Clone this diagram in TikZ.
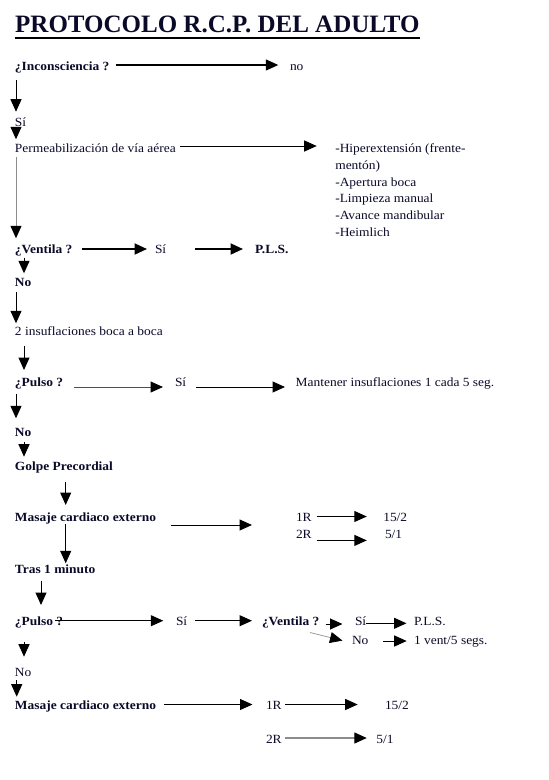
\documentclass[tikz,border=0pt]{standalone}
\usepackage{fontspec}
\setmainfont{Liberation Serif}
\newfontfamily\bodyfont{Liberation Serif}[FakeStretch=1.075]
\usetikzlibrary{arrows.meta}
\definecolor{txt}{RGB}{10,10,40}
\definecolor{lgray}{RGB}{140,140,140}
\definecolor{dgray}{RGB}{80,80,80}
\tikzset{
  lbl/.style={anchor=base west,inner sep=0pt,outer sep=0pt,text=txt,font=\bodyfont\fontsize{12.5}{15}\selectfont},
  blbl/.style={lbl,font=\bodyfont\bfseries\fontsize{12.5}{15}\selectfont},
  arr/.style={line width=1pt,draw=black,-{Triangle[length=12.5pt 0 0,width=11pt 0 0,color=black]}},
  thickarr/.style={arr,line width=2pt},
}
\begin{document}
\begin{tikzpicture}[x=1pt,y=-1pt]
\useasboundingbox (0,0) rectangle (549,780);
% title
\node[anchor=base west,inner sep=0pt,text=txt,font=\bfseries\fontsize{25}{30}\selectfont] (title) at (15,32.3) {PROTOCOLO R.C.P. DEL ADULTO};
\draw[line width=2.7pt,draw=black] ([yshift=-5.8pt]title.base west) -- ([yshift=-5.8pt]title.base east);

% row 1
\node[blbl] (inc) at (15,70) {¿Inconsciencia ?};
\node[lbl] (no1) at (290,70) {no};
\coordinate (a1s) at (115.5,65); \coordinate (a1e) at (278.3,65);
\draw[arr,line width=1.3pt] (a1s) -- (a1e);
\coordinate (v1s) at (16,80); \coordinate (v1e) at (16,111.7);
\draw[arr] (v1s) -- (v1e);
\node[lbl] (si1) at (15,126) {Sí};
\coordinate (v2s) at (16,127.5); \coordinate (v2e) at (16,139.3);
\draw[arr] (v2s) -- (v2e);

% row 2
\node[lbl] (perm) at (15,152.7) {Permeabilización de vía aérea};
\coordinate (a2s) at (180,146); \coordinate (a2e) at (316.7,146);
\draw[arr] (a2s) -- (a2e);
\node[lbl] (l1) at (335.3,152.7) {-Hiperextensión (frente-};
\node[lbl] (l2) at (335.3,169.4) {mentón)};
\node[lbl] (l3) at (335.3,186.1) {-Apertura boca};
\node[lbl] (l4) at (335.3,202.8) {-Limpieza manual};
\node[lbl] (l5) at (335.3,219.5) {-Avance mandibular};
\node[lbl] (l6) at (335.3,236.2) {-Heimlich};
\coordinate (v3s) at (16,157); \coordinate (v3e) at (16,238.3);
\draw[arr,draw=lgray] (v3s) -- (v3e);

% row 3
\node[blbl] (ven1) at (15,253.3) {¿Ventila ?};
\coordinate (a3s) at (81.5,249); \coordinate (a3e) at (147,249);
\draw[thickarr] (a3s) -- (a3e);
\node[lbl] (si2) at (155,253.3) {Sí};
\coordinate (a4s) at (195,249); \coordinate (a4e) at (243,249);
\draw[thickarr] (a4s) -- (a4e);
\node[blbl] (pls1) at (255,253.3) {P.L.S.};
\coordinate (v4s) at (24,257.7); \coordinate (v4e) at (24,273.3);
\draw[arr] (v4s) -- (v4e);
\node[blbl] (no2) at (15,286.7) {No};
\coordinate (v5s) at (16,291.7); \coordinate (v5e) at (16,323.3);
\draw[arr] (v5s) -- (v5e);
\node[lbl] (ins) at (15,335) {2 insuflaciones boca a boca};
\coordinate (v6s) at (24,346); \coordinate (v6e) at (24,370);
\draw[arr] (v6s) -- (v6e);

% row 4
\node[blbl] (pul1) at (15,386.7) {¿Pulso ?};
\coordinate (a5s) at (73.5,387); \coordinate (a5e) at (163,387);
\draw[arr,draw=dgray] (a5s) -- (a5e);
\node[lbl] (si3) at (175,386.7) {Sí};
\coordinate (a6s) at (196,387); \coordinate (a6e) at (285,387);
\draw[arr] (a6s) -- (a6e);
\node[lbl] (mant) at (295.7,386.7) {Mantener insuflaciones 1 cada 5 seg.};
\coordinate (v7s) at (16,394); \coordinate (v7e) at (16,418.3);
\draw[arr] (v7s) -- (v7e);
\node[blbl] (no3) at (15,436.7) {No};
\coordinate (v8s) at (24,441.7); \coordinate (v8e) at (24,456.7);
\draw[arr] (v8s) -- (v8e);
\node[blbl] (golpe) at (15,470) {Golpe Precordial};
\coordinate (v9s) at (65.7,481.7); \coordinate (v9e) at (65.7,505);
\draw[arr] (v9s) -- (v9e);

% row 5
\node[blbl] (mas1) at (15,521.7) {Masaje cardiaco externo};
\coordinate (a7s) at (171,525); \coordinate (a7e) at (252,525);
\draw[arr] (a7s) -- (a7e);
\node[lbl] (r1a) at (296,521.7) {1R};
\coordinate (a8s) at (316.7,516.5); \coordinate (a8e) at (366.8,516.5);
\draw[arr] (a8s) -- (a8e);
\node[lbl] (q1a) at (383.3,521.7) {15/2};
\node[lbl] (r2a) at (296,538.7) {2R};
\coordinate (a9s) at (316.7,540.4); \coordinate (a9e) at (366.8,540.4);
\draw[arr] (a9s) -- (a9e);
\node[lbl] (q2a) at (385,538.7) {5/1};
\coordinate (v10s) at (65.7,524.3); \coordinate (v10e) at (65.7,563.3);
\draw[arr] (v10s) -- (v10e);
\node[blbl] (tras) at (15,573.3) {Tras 1 minuto};
\coordinate (v11s) at (41,581); \coordinate (v11e) at (41,605);
\draw[arr] (v11s) -- (v11e);

% row 6
\node[blbl] (pul2) at (15,625) {¿Pulso ?};
\coordinate (b1s) at (55,620.7); \coordinate (b1e) at (163.3,620.7);
\draw[arr] (b1s) -- (b1e);
\node[lbl] (si4) at (176,625) {Sí};
\coordinate (b2s) at (195,620.7); \coordinate (b2e) at (252,620.7);
\draw[arr] (b2s) -- (b2e);
\node[blbl] (ven2) at (262,625) {¿Ventila ?};
\coordinate (b3s) at (325.5,624); \coordinate (b3e) at (342.5,624);
\draw[arr] (b3s) -- (b3e);
\node[lbl] (si5) at (355,625) {Sí};
\coordinate (b4s) at (365.5,623.3); \coordinate (b4e) at (406.5,623.3);
\draw[arr] (b4s) -- (b4e);
\node[lbl] (pls2) at (414,625) {P.L.S.};
\coordinate (b5s) at (310,632.5); \coordinate (b5e) at (342.5,640.6);
\draw[arr,draw=lgray,line width=0.7pt] (b5s) -- (b5e);
\node[lbl] (no4) at (352,644) {No};
\coordinate (b6s) at (383.3,641); \coordinate (b6e) at (406.7,641);
\draw[arr] (b6s) -- (b6e);
\node[lbl] (vent) at (414,644) {1 vent/5 segs.};
\coordinate (v12s) at (24,641.7); \coordinate (v12e) at (24,656.7);
\draw[arr] (v12s) -- (v12e);
\node[lbl] (no5) at (15,676) {No};
\coordinate (v13s) at (16.7,680); \coordinate (v13e) at (16.7,696.7);
\draw[arr] (v13s) -- (v13e);

% row 7
\node[blbl] (mas2) at (15,709) {Masaje cardiaco externo};
\coordinate (c1s) at (163.5,704.5); \coordinate (c1e) at (252.5,704.5);
\draw[arr] (c1s) -- (c1e);
\node[lbl] (r1b) at (266,709) {1R};
\coordinate (c2s) at (285,704.5); \coordinate (c2e) at (357.7,704.5);
\draw[arr] (c2s) -- (c2e);
\node[lbl] (q1b) at (385,709) {15/2};
\node[lbl] (r2b) at (266,743) {2R};
\coordinate (c3s) at (285,738); \coordinate (c3e) at (366.8,738);
\draw[arr,draw=lgray,line width=1.2pt] (c3s) -- (c3e);
\node[lbl] (q2b) at (376.3,743) {5/1};
\end{tikzpicture}
\end{document}
